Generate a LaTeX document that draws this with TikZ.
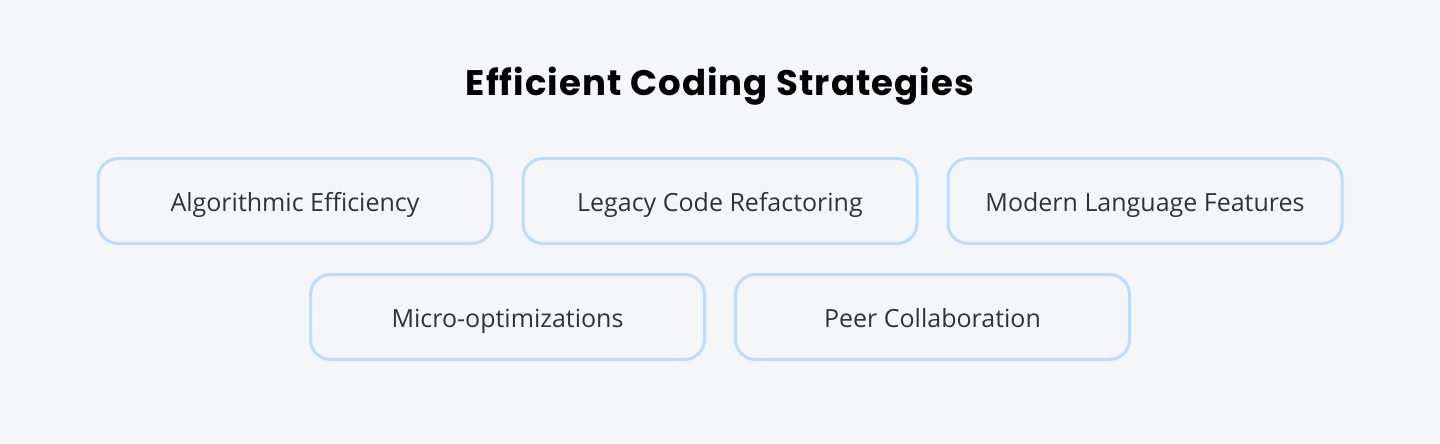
\documentclass[tikz,border=0pt]{standalone}
\usepackage{fontspec}
\setmainfont{Open Sans}
\newfontfamily\titlefont[LetterSpace=3]{Poppins}
\usetikzlibrary{positioning}
\definecolor{bgcol}{HTML}{F5F6FA}
\definecolor{edgecol}{HTML}{BFDBFE}
\definecolor{txtcol}{HTML}{333333}

\begin{document}
\begin{tikzpicture}[x=1pt,y=1pt,
   strategy/.style={draw=edgecol, line width=3pt, fill=bgcol, rounded corners=20pt,
      minimum width=394pt, minimum height=85pt, text=txtcol,
      text height=22pt, text depth=2pt,
      font=\fontsize{25}{30}\selectfont},
   node distance=28pt and 28pt]
\fill[bgcol] (0,0) rectangle (1440,-444);
\useasboundingbox (0,0) rectangle (1440,-444);
\node[font=\titlefont\bfseries\fontsize{35.5}{40}\selectfont] (title) at (720,-86) {Efficient Coding Strategies};
\node[strategy] (legacy) at (720,-201) {Legacy Code Refactoring};
\node[strategy, left=of legacy] (algo) {Algorithmic Efficiency};
\node[strategy, right=of legacy] (modern) {Modern Language Features};
\node[strategy] (micro) at (507.5,-317) {Micro-optimizations};
\node[strategy, right=of micro] (peer) {Peer Collaboration};
\end{tikzpicture}
\end{document}
